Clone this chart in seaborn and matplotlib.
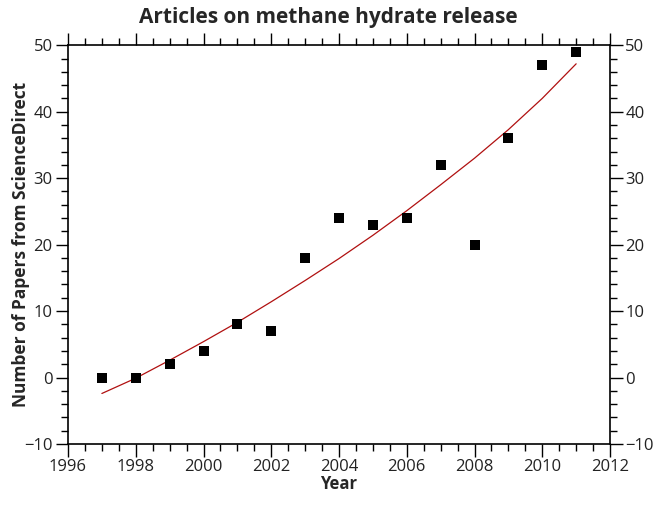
import numpy as np
import pandas as pd
import seaborn as sns
import matplotlib
matplotlib.use("Agg")
import matplotlib.pyplot as plt
from matplotlib.ticker import MultipleLocator

# data
years = [1997, 1998, 1999, 2000, 2001, 2002, 2003, 2004,
         2005, 2006, 2007, 2008, 2009, 2010, 2011]
papers = [0, 0, 2, 4, 8, 7, 18, 24, 23, 24, 32, 20, 36, 47, 49]
# fitted trend curve
fit_values = [-2.4, -0.1, 2.6, 5.4, 8.3, 11.4, 14.6, 17.9,
              21.4, 25.1, 29.0, 33.0, 37.3, 42.0, 47.2]

df = pd.DataFrame({"Year": years, "Papers": papers, "Fit": fit_values})

sns.set_theme(style="ticks")
plt.rcParams['font.family'] = ['Open Sans', 'DejaVu Sans']

fig = plt.figure(figsize=(6.57, 5.08), dpi=100)
ax = fig.add_axes([0.1035, 0.126, 0.825, 0.785])

sns.lineplot(data=df, x="Year", y="Fit", color="#b01010", linewidth=0.9, ax=ax)
sns.scatterplot(data=df, x="Year", y="Papers", marker="s", s=55, color="black",
                edgecolor="black", linewidth=0, ax=ax, zorder=3)

ax.set_xlim(1996, 2012)
ax.set_ylim(-10, 50)
ax.xaxis.set_major_locator(MultipleLocator(2))
ax.xaxis.set_minor_locator(MultipleLocator(0.5))
ax.yaxis.set_major_locator(MultipleLocator(10))
ax.yaxis.set_minor_locator(MultipleLocator(2))

for s in ax.spines.values():
    s.set_linewidth(1.2)
    s.set_color("black")

ax.tick_params(which="both", direction="out", top=True, right=True,
               labelright=True, labeltop=False, color="black", width=1.0)
ax.tick_params(which="major", length=9, labelsize=12, labelcolor="#222222", pad=2)
ax.tick_params(which="minor", length=5)

ax.set_title("Articles on methane hydrate release", fontsize=15,
             fontweight="bold", pad=16)
ax.title.set_x(0.48)   # title is centred on the figure, not the axes
ax.set_xlabel("Year", fontsize=12, fontweight="bold", labelpad=0)
ax.set_ylabel("Number of Papers from ScienceDirect", fontsize=12.5,
              fontweight="bold", labelpad=-4)

fig.savefig("out.png", dpi=100)
